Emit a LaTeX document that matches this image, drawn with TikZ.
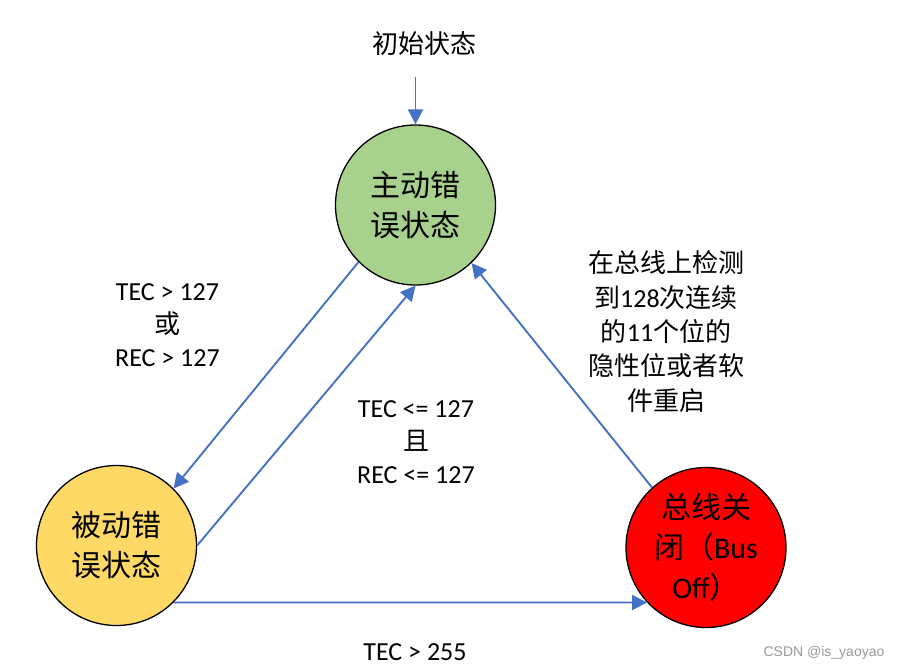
\documentclass[tikz,border=0pt]{standalone}
\usepackage{fontspec}
\setmainfont{Carlito}
\newfontfamily\cjk{Noto Sans CJK SC}
\newfontfamily\wmfont{Liberation Sans}
\usetikzlibrary{arrows.meta}
\definecolor{flowblue}{HTML}{4472C4}
\definecolor{activegreen}{HTML}{A9D18E}
\definecolor{passiveyellow}{HTML}{FFD966}
\definecolor{busoffred}{HTML}{FF0000}

\begin{document}
\begin{tikzpicture}[x=1pt,y=-1pt,
    state/.style={circle,draw=black,line width=1.3pt,minimum size=160pt,inner sep=0pt,align=center,
      font=\fontsize{30}{40}\selectfont},
    trans/.style={draw=flowblue,line width=1.9pt,-{Triangle[length=15pt,width=15pt]}},
    cond/.style={align=center,font=\fontsize{26}{33}\selectfont}]
    \useasboundingbox (0,0) rectangle (898,670);
    % states
    \node[state,fill=activegreen] (active) at (415.5,205) {\cjk 主动错\\\cjk 误状态};
    \node[state,fill=passiveyellow] (passive) at (116.5,545.5) {\cjk 被动错\\\cjk 误状态};
    \node[state,fill=busoffred] (busoff) at (706,547.5) {\cjk 总线关\\{\cjk 闭（}Bus\\Off{\cjk ）}};
    % initial state
    \node[font=\fontsize{26}{33}\selectfont\cjk] (start) at (424,44) {初始状态};
    \coordinate (init) at (415.5,77);
    \draw[trans] (init) -- (active.north);
    % transitions
    \draw[trans] (active.225) -- (passive.45);
    \draw[trans] (passive.east) -- (active.south);
    \draw[trans] (busoff.132) -- (active.314);
    \draw[trans] (passive.315) -- (busoff.223.04);
    % conditions
    \node[cond] (toPassive) at (167.5,325) {TEC > 127\\\cjk 或\\REC > 127};
    \node[cond] (toActive) at (416,442) {TEC <= 127\\\cjk 且\\REC <= 127};
    \node[cond,font=\fontsize{26}{34.3}\selectfont] (recover) at (666,331.5)
      {\cjk 在总线上检测\\{\cjk 到}128{\cjk 次连续}\\{\cjk 的}11{\cjk 个位的}\\\cjk 隐性位或者软\\\cjk 件重启};
    \node[cond] (toBusoff) at (415,652) {TEC > 255};
    \node[font=\fontsize{14}{16}\selectfont\wmfont,text=black!40] (mark) at (824,653) {CSDN @is\_yaoyao};
\end{tikzpicture}
\end{document}
